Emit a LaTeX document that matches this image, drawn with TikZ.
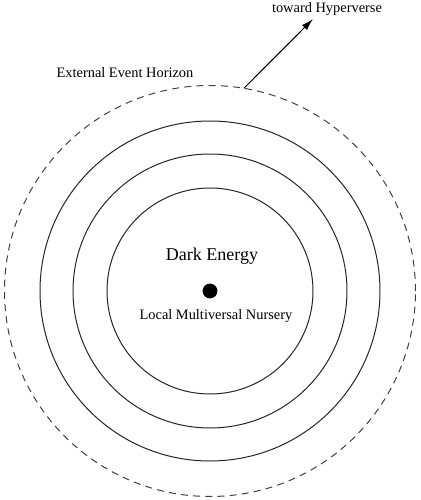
\documentclass[tikz,border=0pt]{standalone}
\usepackage{fontspec}
\setmainfont{Liberation Serif}
\usetikzlibrary{arrows.meta}
\usepackage{xcolor}

\begin{document}
\begin{tikzpicture}[x=0.5pt,y=0.5pt]
    \tikzset{
        shell/.style={draw=black!85,line width=0.5pt},
        horizon/.style={draw=black!75,line width=0.5pt,dash pattern=on 3.5pt off 2.6pt},
        label/.style={inner sep=0pt,font=\fontsize{7.2}{8.6}\selectfont},
        bigtext/.style={inner sep=0pt,font=\fontsize{9}{10.8}\selectfont}
    }
    \useasboundingbox (-210,-209) rectangle (211,291);
    % shells
    \foreach \r/\n in {103/one,137/two,170/three}
        \draw[shell] (0,0) circle (\r);
    \draw[horizon] (0,0) circle (205.5);
    % centre
    \node[draw,circle,fill=black,minimum size=7pt,inner sep=0pt] (nursery) at (0,0) {};
    \node[bigtext] (dark) at (2,35) {Dark Energy};
    \node[label] (local) at (6,-25) {Local Multiversal Nursery};
    % horizon
    \node[label] (ext) at (-85,218) {External Event Horizon};
    \node[label] (hyper) at (117,282) {toward Hyperverse};
    \coordinate (gate) at (80.5:205.5);
    \coordinate (tip) at (103,272);
    \draw[line width=0.5pt,-{Latex[length=6pt,width=3.5pt]}] (gate) -- (tip);
\end{tikzpicture}
\end{document}
